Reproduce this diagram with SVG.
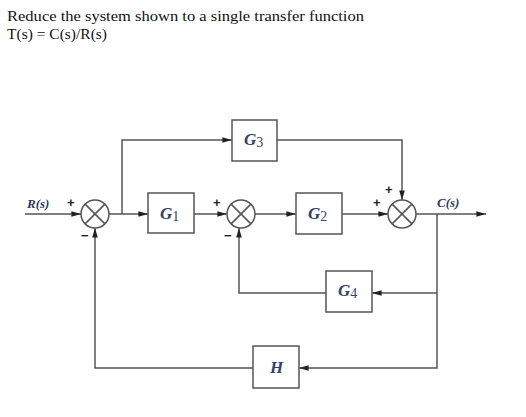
<svg xmlns="http://www.w3.org/2000/svg" width="526" height="417" viewBox="0 0 526 417">
<defs>
<marker id="ah" viewBox="0 0 12 10" refX="12" refY="5" markerWidth="12" markerHeight="8" markerUnits="userSpaceOnUse" orient="auto">
<path d="M0,1.5 L12,5 L0,8.5 Z" fill="#222"/>
</marker>
</defs>
<style>
.t{font-family:"Liberation Serif","Times New Roman",serif;font-size:15.5px;fill:#111}
.w{fill:none;stroke:#555;stroke-width:1.5}
.box{fill:#fff;stroke:#555;stroke-width:1.5}
.lbl{font-family:"Liberation Serif","Times New Roman",serif;font-size:17px;fill:#34406a;font-style:italic;font-weight:bold}
.sub{font-style:normal;font-size:14px;font-weight:normal}
.sig{font-family:"Liberation Serif","Times New Roman",serif;font-size:13px;fill:#2d3a60;font-style:italic;font-weight:bold}
.sg{font-family:"Liberation Sans",Arial,sans-serif;font-size:13px;fill:#222;font-weight:bold}
</style>
<rect width="526" height="417" fill="#fff"/>
<text class="t" x="7" y="21" textLength="357" lengthAdjust="spacingAndGlyphs">Reduce the system shown to a single transfer function</text>
<text class="t" x="7" y="39">T(s) = C(s)/R(s)</text>

<g id="connectors">
<path class="w" d="M25,214 H81" marker-end="url(#ah)"/>
<path class="w" d="M109,214 H148" marker-end="url(#ah)"/>
<path class="w" d="M122,214 V140 H232" marker-end="url(#ah)"/>
<path class="w" d="M194,214 H227" marker-end="url(#ah)"/>
<path class="w" d="M255,214 H296" marker-end="url(#ah)"/>
<path class="w" d="M342,214 H388" marker-end="url(#ah)"/>
<path class="w" d="M277,140 H402 V200" marker-end="url(#ah)"/>
<path class="w" d="M416,214 H486" marker-end="url(#ah)"/>
<path class="w" d="M437,214 V368 H299" marker-end="url(#ah)"/>
<path class="w" d="M437,293 H372" marker-end="url(#ah)"/>
<path class="w" d="M326,293 H239 V228" marker-end="url(#ah)"/>
<path class="w" d="M253,368 H95 V228" marker-end="url(#ah)"/>
</g>

<g id="sum1">
<circle class="box" cx="95" cy="214" r="14"/>
<path class="w" d="M85.1,204.1 L104.9,223.9 M104.9,204.1 L85.1,223.9"/>
<text class="sg" x="67" y="207">+</text>
<text class="sg" x="81" y="240">−</text>
</g>
<g id="sum2">
<circle class="box" cx="241" cy="214" r="14"/>
<path class="w" d="M231.1,204.1 L250.9,223.9 M250.9,204.1 L231.1,223.9"/>
<text class="sg" x="213" y="207">+</text>
<text class="sg" x="224" y="240">−</text>
</g>
<g id="sum3">
<circle class="box" cx="402" cy="214" r="14"/>
<path class="w" d="M392.1,204.1 L411.9,223.9 M411.9,204.1 L392.1,223.9"/>
<text class="sg" x="385" y="194">+</text>
<text class="sg" x="373" y="207">+</text>
</g>

<g id="G1">
<rect class="box" x="148" y="193" width="46" height="40"/>
<text class="lbl" x="160" y="219">G<tspan class="sub" dy="2">1</tspan></text>
</g>
<g id="G2">
<rect class="box" x="296" y="193" width="46" height="41"/>
<text class="lbl" x="308" y="219">G<tspan class="sub" dy="2">2</tspan></text>
</g>
<g id="G3">
<rect class="box" x="232" y="120" width="45" height="41"/>
<text class="lbl" x="244" y="145">G<tspan class="sub" dy="2">3</tspan></text>
</g>
<g id="G4">
<rect class="box" x="326" y="271" width="46" height="41"/>
<text class="lbl" x="338" y="296">G<tspan class="sub" dy="2">4</tspan></text>
</g>
<g id="H">
<rect class="box" x="253" y="346" width="46" height="42"/>
<text class="lbl" x="270" y="373">H</text>
</g>

<text class="sig" x="27" y="208">R(s)</text>
<text class="sig" x="437" y="207">C(s)</text>
</svg>
